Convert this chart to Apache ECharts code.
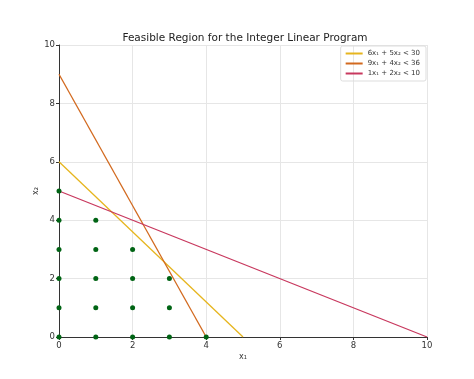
<!DOCTYPE html>
<html>
<head>
<meta charset="utf-8">
<script src="https://cdn.jsdelivr.net/npm/echarts@6/dist/echarts.min.js"></script>
<style>
html,body{margin:0;padding:0;background:#fff;}
#main{width:474px;height:379px;}
</style>
</head>
<body>
<div id="main"></div>
<script>
// 约束线 (x1 截距点)
var lineNames = ['6x\u2081 + 5x\u2082 < 30', '9x\u2081 + 4x\u2082 < 36', '1x\u2081 + 2x\u2082 < 10'];
var lineColors = ['#e6b51e', '#d2691e', '#c8385e'];
var line1 = [[0, 6], [5, 0]];
var line2 = [[0, 9], [4, 0]];
var line3 = [[0, 5], [10, 0]];
// 整数可行点
var pointsX = [0,0,0,0,0,0, 1,1,1,1,1, 2,2,2,2, 3,3,3, 4];
var pointsY = [0,1,2,3,4,5, 0,1,2,3,4, 0,1,2,3, 0,1,2, 0];

var points = [];
for (var i = 0; i < pointsX.length; i++) {
	points.push([pointsX[i], pointsY[i]]);
}

var font = 'DejaVu Sans';
var myChart = echarts.init(document.getElementById('main'));
var lineData = [line1, line2, line3];
var series = [];
for (var j = 0; j < 3; j++) {
	series.push({
		name: lineNames[j],
		type: 'line',
		data: lineData[j],
		symbol: 'none',
		lineStyle: { color: lineColors[j], width: 1.3 },
		itemStyle: { color: lineColors[j] },
		z: 3
	});
}
series.push({
	name: 'points',
	type: 'scatter',
	data: points,
	symbolSize: 5,
	itemStyle: { color: '#006414', opacity: 1 },
	z: 4
});

var option = {
	animation: false,
	title: {
		text: 'Feasible Region for the Integer Linear Program',
		left: 240,
		top: 28,
		textAlign: 'center',
		textStyle: { fontFamily: font, fontSize: 10.5, fontWeight: 'normal', color: '#222' }
	},
	legend: {
		data: lineNames,
		right: 48,
		top: 46,
		orient: 'vertical',
		itemWidth: 17,
		itemHeight: 2,
		itemGap: 3,
		padding: [4, 6, 4, 5],
		borderColor: '#ddd',
		borderWidth: 1,
		borderRadius: 2,
		icon: 'rect',
		textStyle: { fontFamily: font, fontSize: 7, color: '#333' }
	},
	grid: { left: 59, right: 47, top: 45, bottom: 42, containLabel: false },
	xAxis: {
		type: 'value',
		min: 0, max: 10, interval: 2,
		name: 'x\u2081',
		nameLocation: 'middle',
		nameGap: 16,
		nameMoveOverlap: false,
		nameTextStyle: { fontFamily: font, fontSize: 8, color: '#333' },
		axisLine: { show: true, onZero: false, lineStyle: { color: '#333', width: 1 } },
		axisTick: { show: true, length: 3, lineStyle: { color: '#333' } },
		axisLabel: { fontFamily: font, fontSize: 8.5, color: '#333', margin: 4 },
		splitLine: { show: true, lineStyle: { color: '#e6e6e6', width: 1 } }
	},
	yAxis: {
		type: 'value',
		min: 0, max: 10, interval: 2,
		name: 'x\u2082',
		nameLocation: 'middle',
		nameGap: 19,
		nameMoveOverlap: false,
		nameTextStyle: { fontFamily: font, fontSize: 8, color: '#333' },
		axisLine: { show: true, onZero: false, lineStyle: { color: '#333', width: 1 } },
		axisTick: { show: true, length: 3, lineStyle: { color: '#333' } },
		axisLabel: { fontFamily: font, fontSize: 8.5, color: '#333', margin: 4 },
		splitLine: { show: true, lineStyle: { color: '#e6e6e6', width: 1 } }
	},
	series: series
};
myChart.setOption(option, true);
</script>
</body>
</html>
